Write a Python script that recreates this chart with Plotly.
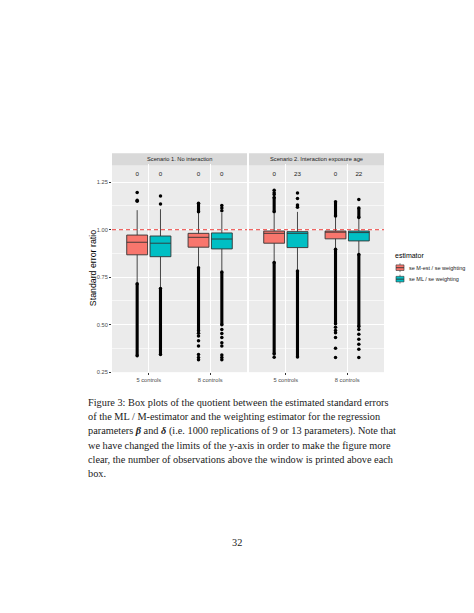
"""
    Box plots of standard error ratios (ML / M-estimator vs weighting estimator)
"""

import plotly.graph_objs as go

# categories
scenarios = ["Scenario 1. No interaction", "Scenario 2. Interaction exposure age"]
controls = ["5 controls", "8 controls"]
estimators = ["se M-est / se weighting", "se ML / se weighting"]
colors = ["#F8766D", "#00BFC4"]

# box statistics, order: S1-5c, S1-8c, S2-5c, S2-8c
mest_q1 = [0.868, 0.908, 0.929, 0.952]
mest_med = [0.934, 0.960, 0.981, 0.987]
mest_q3 = [0.972, 0.981, 0.993, 0.993]
mest_lo = [0.721, 0.807, 0.833, 0.903]
mest_hi = [1.103, 1.092, 1.086, 1.068]

ml_q1 = [0.858, 0.899, 0.906, 0.941]
ml_med = [0.929, 0.951, 0.981, 0.985]
ml_q3 = [0.967, 0.983, 0.990, 0.993]
ml_lo = [0.695, 0.784, 0.789, 0.877]
ml_hi = [1.108, 1.088, 1.094, 1.060]

# dense runs of outliers (from, to)
mest_dense = [[(0.715, 0.336)], [(0.800, 0.468), (1.095, 1.140)],
              [(0.828, 0.345), (1.095, 1.170)], [(0.897, 0.505), (1.072, 1.147)]]
ml_dense = [[(0.690, 0.343)], [(0.778, 0.500)],
            [(0.783, 0.330), (1.118, 1.130)], [(0.870, 0.490), (1.065, 1.114)]]

# single outliers
mest_out = [[1.196, 1.155, 1.150],
            [0.455, 0.440, 0.415, 0.388, 0.343, 0.327, 0.315],
            [1.208, 1.195, 1.185, 0.328],
            [0.487, 0.470, 0.458, 0.432, 0.376, 0.327]]
ml_out = [[1.177, 1.135],
          [1.128, 1.115, 1.100, 0.475, 0.453, 0.432, 0.405, 0.388, 0.341, 0.327, 0.315],
          [1.194, 1.165],
          [1.159, 0.475, 0.449, 0.423, 0.397, 0.371, 0.327]]

# number of observations above the window
mest_above = [0, 0, 0, 0]
ml_above = [0, 0, 23, 22]

# page is 474x613, the html body adds an 8px margin
PAGE_W, PAGE_H = 474, 613
OFF = 8
W, H = PAGE_W - OFF, PAGE_H - 2 * OFF
DODGE = 0.19
BOXW = 0.34
FONT = "Liberation Sans"


def px_x(v):
    return (v - OFF) / W


def px_y(v):
    return 1 - (v - OFF) / H


stats = [
    (mest_q1, mest_med, mest_q3, mest_lo, mest_hi, mest_dense, mest_out, mest_above),
    (ml_q1, ml_med, ml_q3, ml_lo, ml_hi, ml_dense, ml_out, ml_above),
]

fig = go.Figure()

for e, (q1, med, q3, lo, hi, dense, outs, above) in enumerate(stats):
    offset = -DODGE if e == 0 else DODGE
    for s in range(len(scenarios)):
        xa = "x" if s == 0 else "x2"
        ya = "y" if s == 0 else "y2"
        idx = [2 * s, 2 * s + 1]
        pos = [c + 1 + offset for c in range(len(controls))]
        fig.add_trace(go.Box(
            x=pos, q1=[q1[i] for i in idx], median=[med[i] for i in idx],
            q3=[q3[i] for i in idx], lowerfence=[lo[i] for i in idx],
            upperfence=[hi[i] for i in idx], width=BOXW, boxpoints=False,
            fillcolor=colors[e], line=dict(color="#333333", width=0.9),
            whiskerwidth=0, name=estimators[e], showlegend=False,
            xaxis=xa, yaxis=ya, hoverinfo="skip"))
        # dense outlier runs
        lx, ly = [], []
        for j, i in enumerate(idx):
            for a, b in dense[i]:
                lx += [pos[j], pos[j], None]
                ly += [a, b, None]
        fig.add_trace(go.Scatter(
            x=lx, y=ly, mode="lines+markers", line=dict(color="black", width=3.1),
            marker=dict(color="black", size=3.5), showlegend=False,
            xaxis=xa, yaxis=ya, hoverinfo="skip"))
        # single outliers
        ox, oy = [], []
        for j, i in enumerate(idx):
            ox += [pos[j]] * len(outs[i])
            oy += outs[i]
        fig.add_trace(go.Scatter(
            x=ox, y=oy, mode="markers", marker=dict(color="black", size=3.5),
            showlegend=False, xaxis=xa, yaxis=ya, hoverinfo="skip"))
        # counts above the window
        fig.add_trace(go.Scatter(
            x=pos, y=[1.29] * 2, mode="text", text=[str(above[i]) for i in idx],
            textfont=dict(family=FONT, size=6.2, color="#1A1A1A"),
            showlegend=False, xaxis=xa, yaxis=ya, hoverinfo="skip"))

panel_x = [(112, 247), (249, 384)]
y_top, y_bot = 165, 374
axis_common = dict(
    range=[0.4, 2.6], tickvals=[1, 2], ticktext=controls, showgrid=True,
    gridcolor="white", gridwidth=1, zeroline=False, ticks="outside", ticklen=2,
    tickcolor="#333333", tickwidth=0.6,
    tickfont=dict(family=FONT, size=5.7, color="#4D4D4D"), fixedrange=True)
yaxis_common = dict(
    range=[0.25, 1.345], tickvals=[0.25, 0.5, 0.75, 1.0, 1.25],
    ticktext=["0.25", "0.50", "0.75", "1.00", "1.25"], showgrid=True,
    gridcolor="white", gridwidth=1, zeroline=False,
    minor=dict(dtick=0.125, tick0=0.125, showgrid=True, gridcolor="#F7F7F7", gridwidth=0.5),
    domain=[px_y(y_bot), px_y(y_top)], fixedrange=True)

fig.update_layout(
    width=W, height=H, margin=dict(l=0, r=0, t=0, b=0),
    paper_bgcolor="white", plot_bgcolor="#EBEBEB", showlegend=False,
    xaxis=dict(domain=[px_x(panel_x[0][0]), px_x(panel_x[0][1])], anchor="y", **axis_common),
    xaxis2=dict(domain=[px_x(panel_x[1][0]), px_x(panel_x[1][1])], anchor="y2", **axis_common),
    yaxis=dict(anchor="x", ticks="outside", ticklen=2, tickcolor="#333333", tickwidth=0.6,
               tickfont=dict(family=FONT, size=5.7, color="#4D4D4D"), **yaxis_common),
    yaxis2=dict(anchor="x2", matches="y", showticklabels=False, **yaxis_common),
)

shapes = []
annotations = []

# facet strips and reference line
for s, (x0, x1) in enumerate(panel_x):
    shapes.append(dict(type="rect", xref="paper", yref="paper",
                       x0=px_x(x0), x1=px_x(x1), y0=px_y(166), y1=px_y(154),
                       fillcolor="#D9D9D9", line=dict(width=0), layer="below"))
    annotations.append(dict(text=scenarios[s], xref="paper", yref="paper",
                            x=px_x((x0 + x1) / 2), y=px_y(160), showarrow=False,
                            font=dict(family=FONT, size=5.7, color="#1A1A1A"),
                            xanchor="center", yanchor="middle"))
    xr = "x domain" if s == 0 else "x2 domain"
    yr = "y" if s == 0 else "y2"
    shapes.append(dict(type="line", xref=xr, yref=yr, x0=0, x1=1, y0=1.0, y1=1.0,
                       line=dict(color="#E8231F", width=0.9, dash="4px,3px"), layer="above"))

annotations.append(dict(text="Standard error ratio", xref="paper", yref="paper",
                        x=px_x(93), y=px_y((y_top + y_bot) / 2), textangle=-90,
                        showarrow=False, font=dict(family=FONT, size=8.8, color="black"),
                        xanchor="center", yanchor="middle"))

# legend drawn by hand, ggplot style keys
annotations.append(dict(text="estimator", xref="paper", yref="paper",
                        x=px_x(393), y=px_y(257), showarrow=False, xanchor="left",
                        yanchor="middle", font=dict(family=FONT, size=7, color="black")))
key_y = [269, 280.5]
for e in range(len(estimators)):
    ky = key_y[e]
    shapes.append(dict(type="line", xref="paper", yref="paper", x0=px_x(400), x1=px_x(400),
                       y0=px_y(ky - 4.5), y1=px_y(ky + 4.5),
                       line=dict(color="#333333", width=0.6)))
    shapes.append(dict(type="rect", xref="paper", yref="paper", x0=px_x(396), x1=px_x(404),
                       y0=px_y(ky - 2.8), y1=px_y(ky + 2.8), fillcolor=colors[e],
                       line=dict(color="#333333", width=0.6)))
    shapes.append(dict(type="line", xref="paper", yref="paper", x0=px_x(396), x1=px_x(404),
                       y0=px_y(ky), y1=px_y(ky), line=dict(color="#333333", width=0.9)))
    annotations.append(dict(text=estimators[e], xref="paper", yref="paper",
                            x=px_x(407), y=px_y(ky), showarrow=False, xanchor="left",
                            yanchor="middle", font=dict(family=FONT, size=5.5, color="#1A1A1A")))

caption = [
    "Figure 3: Box plots of the quotient between the estimated standard errors",
    "of the ML / M-estimator and the weighting estimator for the regression",
    "parameters <b><i>β</i></b> and <b><i>δ</i></b> (i.e. 1000 replications of 9 or 13 parameters). Note that",
    "we have changed the limits of the y-axis in order to make the figure more",
    "clear, the number of observations above the window is printed above each",
    "box.",
]
caption_y = [404, 418.5, 433, 447.5, 462, 476]
for line, yy in zip(caption, caption_y):
    annotations.append(dict(text=line, xref="paper", yref="paper", x=px_x(86), y=px_y(yy),
                            showarrow=False, xanchor="left", yanchor="middle",
                            font=dict(family="Liberation Serif", size=10.3, color="#1A1A1A")))

annotations.append(dict(text="32", xref="paper", yref="paper", x=px_x(237), y=px_y(545),
                        showarrow=False, xanchor="center", yanchor="middle",
                        font=dict(family="Liberation Serif", size=10.3, color="#1A1A1A")))

fig.update_layout(shapes=shapes, annotations=annotations)

fig.write_html("out.html")
